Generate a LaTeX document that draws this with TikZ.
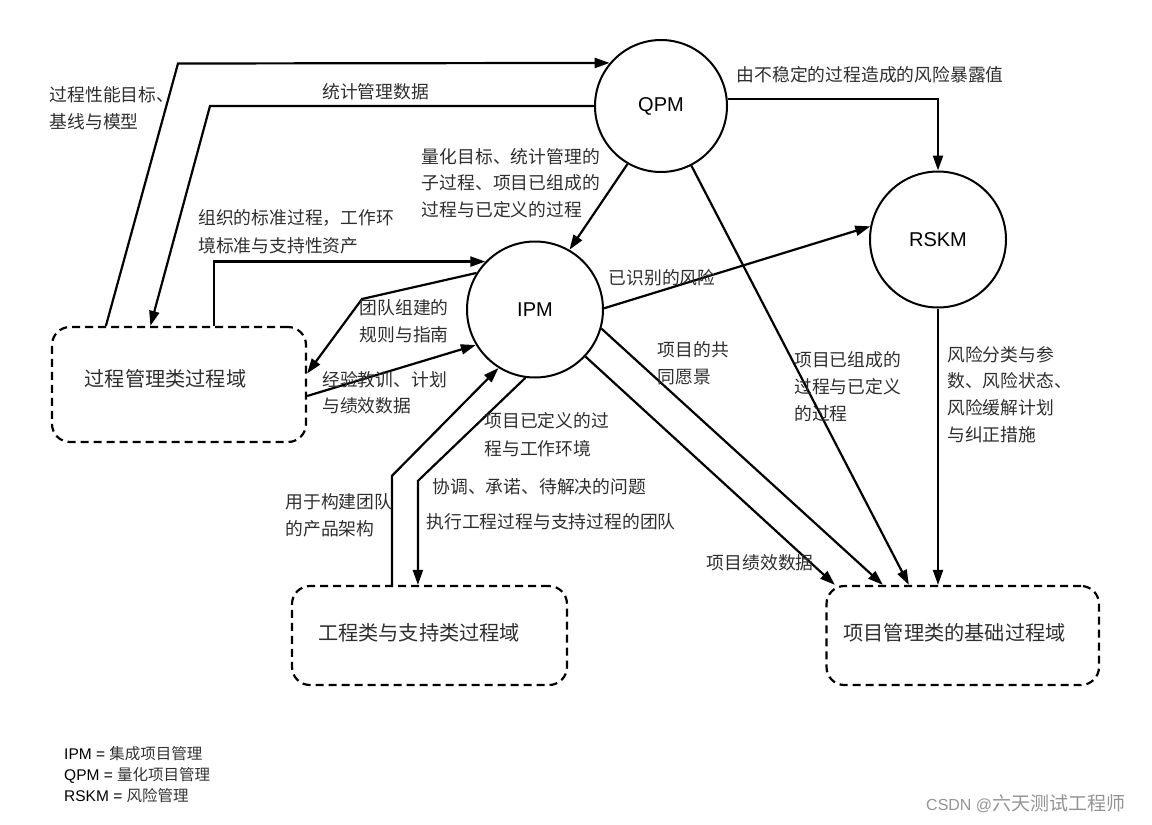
\documentclass[tikz,border=0pt]{standalone}
\usepackage{fontspec}
\setmainfont{Liberation Sans}
\newfontfamily\cjk{Noto Sans CJK SC}
\usetikzlibrary{arrows.meta,calc}
\begin{document}
\begin{tikzpicture}[x=1pt,y=-1pt,
  arr/.style={draw, line width=2.2pt, -{Triangle[length=15pt,width=10pt]}},
  proc/.style={circle, draw, line width=2pt, minimum size=136pt, inner sep=0pt, font=\fontsize{20}{24}\selectfont},
  area/.style={draw, line width=2.2pt, dash pattern=on 8pt off 5pt, rounded corners=18pt, inner sep=0pt},
  lbl/.style={inner sep=0pt, anchor=west, align=left, text=black!82, font=\cjk\fontsize{17.8}{26.7}\selectfont},
  big/.style={inner sep=0pt, text=black!82, font=\cjk\fontsize{20.2}{24}\selectfont},
]
\useasboundingbox (0,0) rectangle (1152,825);

% process circles
\node[proc, minimum size=132pt] (qpm) at (661,106) {QPM};
\node[proc] (ipm) at (535,309.5) {IPM};
\node[proc] (rskm) at (938,239.5) {RSKM};

% process areas
\node[area, minimum width=254pt, minimum height=115pt] (pm) at (179,384.5) {};
\node[area, minimum width=275pt, minimum height=99pt] (eng) at (429.5,635.5) {};
\node[area, minimum width=272.5pt, minimum height=99pt] (proj) at (962.75,635.5) {};

\node[big] (pmt) at (165.5,379) {过程管理类过程域};
\node[big] (engt) at (419,633) {工程类与支持类过程域};
\node[big] (projt) at (954.5,633) {项目管理类的基础过程域};

% connectors
\draw[arr] ($(pm.north west)+(55,0)$) -- (178,63.5) -- (qpm.140);
\draw[arr] (qpm.180) -- (210,106) -- ($(pm.north west)+(99.5,0)$);
\draw[arr] ($(pm.north west)+(163,0)$) |- (ipm.136);
\draw[arr] (ipm.148) -- (362,299) -- ($(pm.east)+(0,-11)$);
\draw[arr] ($(pm.east)+(0,11.5)$) -- (ipm.211);
\draw[arr] (qpm.240) -- (ipm.60);
\draw[arr] (qpm.6) -| (rskm.north);
\draw[arr] (ipm.1) -- (rskm.169);
\draw[arr] (qpm.297) -- ($(proj.north west)+(83.5,0)$);
\draw[arr] (rskm.south) -- (rskm.south |- proj.north);
\draw[arr] (ipm.344) -- ($(proj.north west)+(57.5,0)$);
\draw[arr] (ipm.317) -- ($(proj.north west)+(9.5,0)$);
\draw[arr] ($(eng.north west)+(101,0)$) -- ($(eng.north west)+(101,-109)$) -- (ipm.238);
\draw[arr] (ipm.262) -- ($(eng.north west)+(127,-104)$) -- ($(eng.north west)+(127,0)$);

% labels
\node[lbl] (l1) at (49.5,108.5) {过程性能目标、\\基线与模型};
\node[lbl] (l2) at (322,91.7) {统计管理数据};
\node[lbl, font=\cjk\fontsize{17.8}{28.4}\selectfont] (l3) at (198,231.5) {组织的标准过程，工作环\\境标准与支持性资产};
\node[lbl] (l4) at (359.5,321) {团队组建的\\规则与指南};
\node[lbl] (l5) at (322,392.7) {经验教训、计划\\与绩效数据};
\node[lbl] (l6) at (421.7,183) {量化目标、统计管理的\\子过程、项目已组成的\\过程与已定义的过程};
\node[lbl] (l7) at (736.5,75) {由不稳定的过程造成的风险暴露值};
\node[lbl] (l8) at (608.5,277.7) {已识别的风险};
\node[lbl] (l9) at (794,386.7) {项目已组成的\\过程与已定义\\的过程};
\node[lbl] (l10) at (947,394.3) {风险分类与参\\数、风险状态、\\风险缓解计划\\与纠正措施};
\node[lbl] (l11) at (657.6,363.3) {项目的共\\同愿景};
\node[lbl] (l12) at (706.7,562.7) {项目绩效数据};
\node[lbl] (l13) at (285.3,515) {用于构建团队\\的产品架构};
\node[lbl, font=\cjk\fontsize{17.8}{27.6}\selectfont] (l14) at (484.3,434.5) {项目已定义的过\\程与工作环境};
\node[lbl] (l15) at (432.3,486.7) {协调、承诺、待解决的问题};
\node[lbl] (l16) at (426.3,521.7) {执行工程过程与支持过程的团队};

% legend
\node[inner sep=0pt, anchor=west, align=left, font=\fontsize{15.5}{21}\selectfont] (legend) at (64,775)
  {IPM = {\cjk\color{black!80} 集成项目管理}\\QPM = {\cjk\color{black!80} 量化项目管理}\\RSKM = {\cjk\color{black!80} 风险管理}};

% watermark
\node[inner sep=0pt, anchor=west, text=black!42, font=\fontsize{16}{20}\selectfont] (wm) at (926,804)
  {CSDN @{\cjk\fontsize{19}{20}\selectfont 六天测试工程师}};
\end{tikzpicture}
\end{document}
